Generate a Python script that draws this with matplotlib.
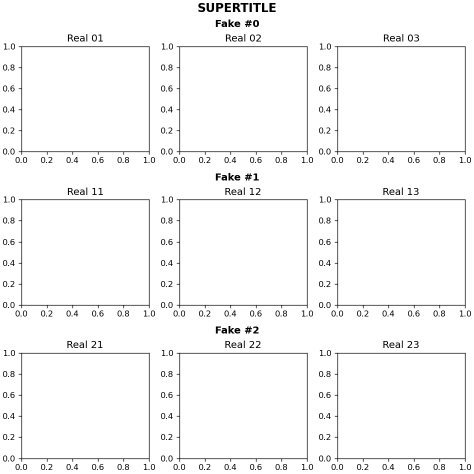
import numpy as np
import matplotlib.pyplot as plt

row_titles = ["Fake #0", "Fake #1", "Fake #2"]
panel_titles = [["Real 01", "Real 02", "Real 03"],
                ["Real 11", "Real 12", "Real 13"],
                ["Real 21", "Real 22", "Real 23"]]

# draw at twice the size, then average down to 474 px for a smoother look
fig = plt.figure(figsize=(8, 8), dpi=118.5, layout="constrained")
fig.suptitle("SUPERTITLE", fontsize="x-large", fontweight="bold")

subfigs = fig.subfigures(nrows=3, ncols=1)
for row, subfig in enumerate(subfigs):
    subfig.suptitle(row_titles[row], fontsize="large", fontweight="bold")
    axs = subfig.subplots(nrows=1, ncols=3)
    for col, ax in enumerate(axs):
        ax.set_title(panel_titles[row][col])

fig.canvas.draw()
img = np.asarray(fig.canvas.buffer_rgba())[:, :, :3].astype(float) / 255
h, w = img.shape[0] // 2 * 2, img.shape[1] // 2 * 2
img = img[:h, :w].reshape(h // 2, 2, w // 2, 2, 3).mean(axis=(1, 3))
plt.imsave("out.png", img)
